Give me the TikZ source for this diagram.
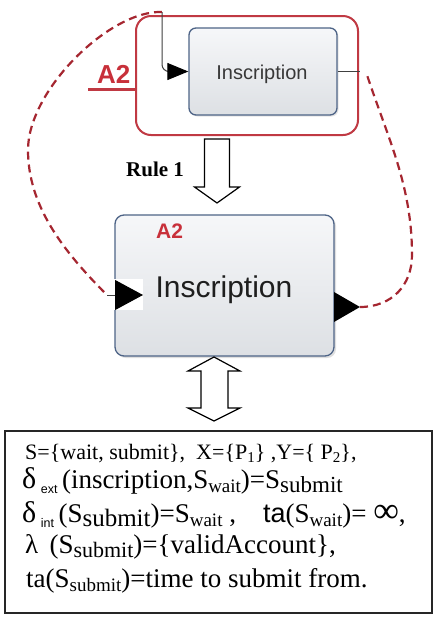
\documentclass[tikz,border=0pt]{standalone}
\usepackage{fontspec}
\setmainfont{Liberation Serif}
\newfontfamily\arialfont{Liberation Sans}
\usetikzlibrary{arrows.meta,shadows}
\definecolor{dashred}{RGB}{165,38,48}
\definecolor{boxred}{RGB}{192,57,67}
\definecolor{labelred}{RGB}{200,48,58}
\definecolor{blueedge}{RGB}{78,100,135}
\definecolor{boxtop}{RGB}{246,247,249}
\definecolor{boxbot}{RGB}{221,224,228}
\definecolor{inktext}{RGB}{30,30,30}
\newcommand\sbs[2][19]{\raisebox{-0.18em}{\fontsize{#1}{#1}\selectfont #2}}
\newcommand\sbm[1]{\raisebox{-0.2em}{\arialfont\fontsize{12.5}{12.5}\selectfont #1}}
\newcommand\infsym{{\fontsize{36}{36}\selectfont ∞}}
\newcommand\bigdelta{{\fontsize{30}{30}\selectfont δ}}

\begin{document}
\begin{tikzpicture}[
            x=1pt, y=-1pt,
            devsbox/.style={draw=blueedge, line width=1.3pt, rounded corners=7pt, top color=boxtop, bottom color=boxbot},
            coupled/.style={draw=boxred, line width=2pt, rounded corners=15pt, fill=white},
            loopline/.style={draw=dashred, line width=2.2pt, dash pattern=on 8pt off 5pt},
            portline/.style={draw=black!75, line width=1pt},
            hollow/.style={draw=black, line width=1.2pt, fill=white, line join=miter},
            speclabel/.style={anchor=base west, inner sep=0pt, font=\fontsize{27}{27}\selectfont},
        ]
            \useasboundingbox (0,0) rectangle (443,622);
            \fill[white] (0,0) rectangle (443,622);
            \node[coupled, minimum width=222pt, minimum height=119pt] (a2top) at (247,75.5) {};
            \node[devsbox, minimum width=148pt, minimum height=87pt, drop shadow={opacity=.2, shadow xshift=1.5pt, shadow yshift=-1.5pt}] (insc) at (263,71.5) {};
            \node[anchor=base, inner sep=0pt, text=black!78, font=\arialfont\fontsize{20}{20}\selectfont] (insclbl) at (262,79) {Inscription};
            \node[anchor=base west, inner sep=0pt, text=labelred, font=\arialfont\bfseries\fontsize{26}{26}\selectfont] (a2lbl) at (97,83) {A2};
            \coordinate (a2ul) at (88,89);
            \draw[boxred, line width=3pt] (a2ul) -- (a2ul -| a2top.west);
            \coordinate (inA) at (162,12);
            \draw[portline, rounded corners=7pt, -{Triangle[length=21pt,width=17pt,color=black]}] (inA) |- (insc.west);
            \coordinate (outA) at (360,71.5);
            \draw[portline] (insc.east) -- (outA);
            \node[anchor=base west, inner sep=0pt, font=\bfseries\fontsize{21}{21}\selectfont] (rule) at (126,176) {Rule 1};
            \draw[hollow] (204.5,139) -- (229.5,139) -- (229.5,187) -- (239.5,187) -- (217,203) -- (194.5,187) -- (204.5,187) -- cycle;
            \node[devsbox, rounded corners=9pt, minimum width=219pt, minimum height=141pt, drop shadow={opacity=.25, shadow xshift=2pt, shadow yshift=-2pt}] (insbig) at (224.5,285.5) {};
            \node[anchor=base west, inner sep=0pt, text=labelred, font=\arialfont\bfseries\fontsize{21}{21}\selectfont] (a2big) at (156,238) {A2};
            \node[anchor=base, inner sep=0pt, text=inktext, font=\arialfont\fontsize{30}{30}\selectfont] (insbiglbl) at (224,297) {Inscription};
            \fill[white] (114,279) rectangle (143,310);
            \coordinate (inB) at (107,295);
            \coordinate (inTip) at (143,295);
            \draw[portline, -{Triangle[length=28pt,width=30pt,color=black]}] (inB) -- (inTip);
            \coordinate (outTip) at (360,307);
            \fill[black] (334,292) -- (outTip) -- (334,322) -- cycle;
            \coordinate (outB) at (366,72);
            \draw[loopline] (inA) .. controls (110,10) and (28,90) .. (28,150) .. controls (28,205) and (62,250) .. (inB);
            \draw[loopline] (outTip) .. controls (392,307) and (412,285) .. (412,255) .. controls (412,185) and (388,139) .. (outB);
            \draw[hollow] (214,357) -- (240,371) -- (228,371) -- (228,408) -- (240,408) -- (214,421) -- (188,408) -- (201,408) -- (201,371) -- (188,371) -- cycle;
            \node[draw=black!85, line width=2pt, minimum width=427pt, minimum height=182pt, inner sep=0pt, anchor=north west] (spec) at (4,430) {};
            \node[speclabel, font=\fontsize{22}{22}\selectfont] (line1) at (25,459) {S=\{wait, submit\},\ \ X=\{P\sbs[15]{1}\} ,Y=\{ P\sbs[15]{2}\},};
            \node[speclabel] (line2) at (22,488) {\bigdelta\,\sbm{ext}\,(inscription,S\sbs{wait})=S\sbs[23]{submit}};
            \node[speclabel] (line3) at (22,522) {\bigdelta\,\sbm{int}\,(S\sbs[25]{submit})=S\sbs{wait}\ ,\ \ \ \ {\arialfont ta}(S\sbs{wait})=\ \infsym,};
            \node[speclabel] (line4) at (25,553) {λ\, (S\sbs[22]{submit})=\{validAccount\},};
            \node[speclabel] (line5) at (26,587) {ta(S\sbs{submit})=time to submit from.};
        \end{tikzpicture}
\end{document}
